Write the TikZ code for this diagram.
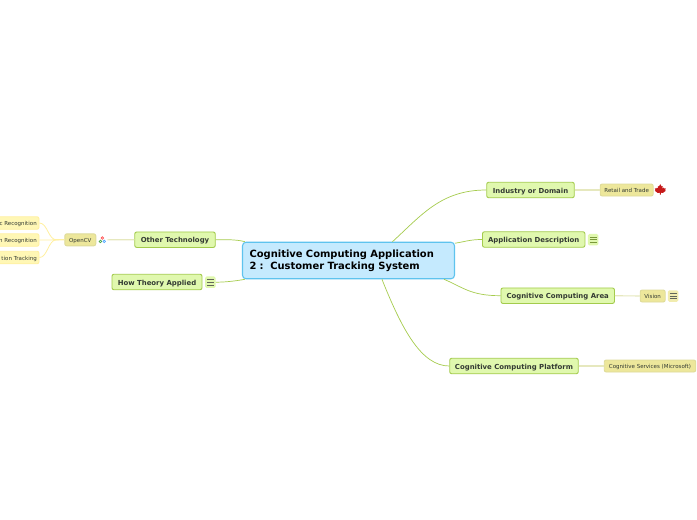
\documentclass[tikz,border=0pt]{standalone}
\usepackage{fontspec}
\setmainfont{DejaVu Sans}
\usetikzlibrary{calc}
\definecolor{greenfill}{HTML}{E0F8AE}
\definecolor{greenline}{HTML}{A3CB4C}
\definecolor{linkgreen}{HTML}{A6CC4E}
\definecolor{centerfill}{HTML}{C5EAFE}
\definecolor{centerline}{HTML}{5EC3EE}
\definecolor{khakifill}{HTML}{EDE79B}
\definecolor{khakiline}{HTML}{DEDB99}
\definecolor{khakilink}{HTML}{E6E8BE}
\definecolor{yellowfill}{HTML}{FFF7B5}
\definecolor{yellowline}{HTML}{FFF0A0}
\definecolor{inkdark}{HTML}{333A33}
\definecolor{iconline}{HTML}{62665A}
\tikzset{
  x=1pt,y=-1pt,
  centerbox/.style={draw=centerline,line width=1.1pt,fill=centerfill,rounded corners=3.5pt,inner sep=0pt,
    minimum width=212pt,minimum height=36.5pt,text width=198pt,align=left,
    font=\bfseries\fontsize{9.95}{12.2}\selectfont,text=black},
  mainbox/.style={draw=greenline,line width=.9pt,fill=greenfill,rounded corners=2pt,inner sep=0pt,
    minimum height=15.5pt,text height=6.4pt,text depth=0pt,font=\bfseries\fontsize{6.92}{9}\selectfont,text=inkdark},
  subbox/.style={draw=khakiline,line width=.9pt,fill=khakifill,rounded corners=2pt,inner sep=0pt,
    minimum height=12pt,text height=5pt,text depth=0pt,font=\fontsize{5.5}{7}\selectfont,text=inkdark},
  leafbox/.style={draw=yellowline,line width=.9pt,fill=yellowfill,rounded corners=2pt,inner sep=0pt,
    minimum height=12.5pt,minimum width=60pt,text width=55.5pt,text height=5pt,text depth=0pt,align=right,font=\fontsize{5.5}{7}\selectfont,text=inkdark},
  mainlink/.style={draw=linkgreen,line width=.7pt},
  sublink/.style={draw=khakilink,line width=1.1pt},
  leaflink/.style={draw=yellowline,line width=.8pt},
  noteicon/.style={fill=#1,rounded corners=1.5pt,inner sep=0pt,minimum width=10.5pt,minimum height=11.5pt},
}
\newcommand{\notelines}[2]{%
  \draw[#2,line width=.6pt] ($(#1)+(-3.3,-2.6)$) -- ($(#1)+(3.3,-2.6)$);
  \draw[#2,line width=.6pt] ($(#1)+(-3.3,0)$) -- ($(#1)+(3.3,0)$);
  \draw[#2,line width=.6pt] ($(#1)+(-3.3,2.6)$) -- ($(#1)+(3.3,2.6)$);}
\begin{document}
\begin{tikzpicture}
\useasboundingbox (0,0) rectangle (697,520);
\fill[white] (0,0) rectangle (697,520);
\clip (0,0) rectangle (697,520);
% nodes
\node[centerbox] (center) at (348.5,260.5) {Cognitive Computing Application\\2 :\ \ Customer Tracking System};
\node[mainbox,minimum width=87.5pt] (industry) at (530.5,190) {Industry or Domain};
\node[mainbox,minimum width=102.5pt] (appdesc) at (533.7,239.5) {Application Description};
\node[mainbox,minimum width=113.5pt] (area) at (557.7,295.7) {Cognitive Computing Area};
\node[mainbox,minimum width=128.5pt] (platform) at (514,366) {Cognitive Computing Platform};
\node[mainbox,minimum width=80.5pt] (other) at (175,239.7) {Other Technology};
\node[mainbox,minimum width=90pt] (theory) at (157,282) {How Theory Applied};
\node[subbox,minimum width=53pt] (retail) at (626.7,190) {Retail and Trade};
\node[subbox,minimum width=25pt] (vision) at (652.7,296) {Vision};
\node[subbox,minimum width=91.5pt] (services) at (650,366) {Cognitive Services (Microsoft)};
\node[subbox,minimum width=31pt] (opencv) at (80.3,239.8) {OpenCV};
\node[leafbox] (leafa) at (9,223) {c Recognition};
\node[leafbox] (leafb) at (9,240) {n Recognition};
\node[leafbox] (leafc) at (9,257.5) {tion Tracking};
% icons
\node[noteicon=greenfill] (noteb) at (593.2,239.7) {};
\notelines{noteb}{black!25!greenline}
\node[noteicon=greenfill] (notea) at (210.3,282.2) {};
\notelines{notea}{iconline}
\node[noteicon=khakifill!80!white] (notec) at (673.2,296) {};
\notelines{notec}{iconline}
\coordinate (maple) at (660.3,189.5);
\fill[red!75!black!90!white] ($(maple)+(0,-5.3)$) -- ($(maple)+(1.4,-3)$) -- ($(maple)+(2.4,-3.5)$) -- ($(maple)+(2,-0.8)$) -- ($(maple)+(3.2,-2)$) -- ($(maple)+(3.7,-1)$) -- ($(maple)+(5.5,-1.2)$) -- ($(maple)+(4.8,0.7)$) -- ($(maple)+(5.5,1.3)$) -- ($(maple)+(2.6,3.4)$) -- ($(maple)+(0.5,3.2)$) -- ($(maple)+(0.5,5)$) -- ($(maple)+(-0.5,5)$) -- ($(maple)+(-0.5,3.2)$) -- ($(maple)+(-2.6,3.4)$) -- ($(maple)+(-5.5,1.3)$) -- ($(maple)+(-4.8,0.7)$) -- ($(maple)+(-5.5,-1.2)$) -- ($(maple)+(-3.7,-1)$) -- ($(maple)+(-3.2,-2)$) -- ($(maple)+(-2,-0.8)$) -- ($(maple)+(-2.4,-3.5)$) -- ($(maple)+(-1.4,-3)$) -- cycle;
\coordinate (cvlogo) at (102.3,239.8);
\draw[red!70!white,line width=.7pt] ($(cvlogo)+(0,-1.8)$) circle (1.3);
\draw[green!50!black!70!white,line width=.7pt] ($(cvlogo)+(-1.9,1.6)$) circle (1.3);
\draw[blue!50!cyan!70!white,line width=.7pt] ($(cvlogo)+(1.9,1.6)$) circle (1.3);
% connectors
\path[mainlink] ($(center.north west)+(150.5,0)$) .. controls ($(center.north west)+(180,-27)$) and ($(industry.west)+(-45,0)$) .. (industry.west);
\path[mainlink] ($(center.north east)+(0,1.5)$) .. controls ($(center.north east)+(10,0)$) and ($(appdesc.west)+(-12,0)$) .. (appdesc.west);
\path[mainlink] ($(center.south east)+(-11,0)$) .. controls ($(center.south east)+(8,8)$) and ($(area.west)+(-30,0)$) .. (area.west);
\path[mainlink] ($(center.south west)+(140,0)$) .. controls ($(center.south west)+(160,50)$) and ($(platform.west)+(-28,0)$) .. (platform.west);
\path[mainlink] ($(center.north west)+(3,0)$) .. controls ($(center.north west)+(-6,-2.5)$) and ($(other.east)+(8,0)$) .. (other.east);
\path[mainlink] ($(center.south west)+(3,0)$) .. controls ($(center.south west)+(-8,2)$) and ($(notea.east)+(8,0)$) .. (notea.east);
\path[sublink] (industry.east) -- (retail.west);
\path[sublink] (area.east) -- (vision.west);
\path[sublink] (platform.east) -- (services.west);
\path[sublink] (other.west) -- ($(cvlogo)+(5,0)$);
\path[leaflink] (opencv.west) -- ($(opencv.west)+(-8,0)$) .. controls ($(opencv.west)+(-16,0)$) and ($(leafa.east)+(8,0)$) .. (leafa.east);
\path[leaflink] (opencv.west) -- (leafb.east);
\path[leaflink] (opencv.west) -- ($(opencv.west)+(-8,0)$) .. controls ($(opencv.west)+(-16,0)$) and ($(leafc.east)+(8,0)$) .. (leafc.east);
\end{tikzpicture}
\end{document}
